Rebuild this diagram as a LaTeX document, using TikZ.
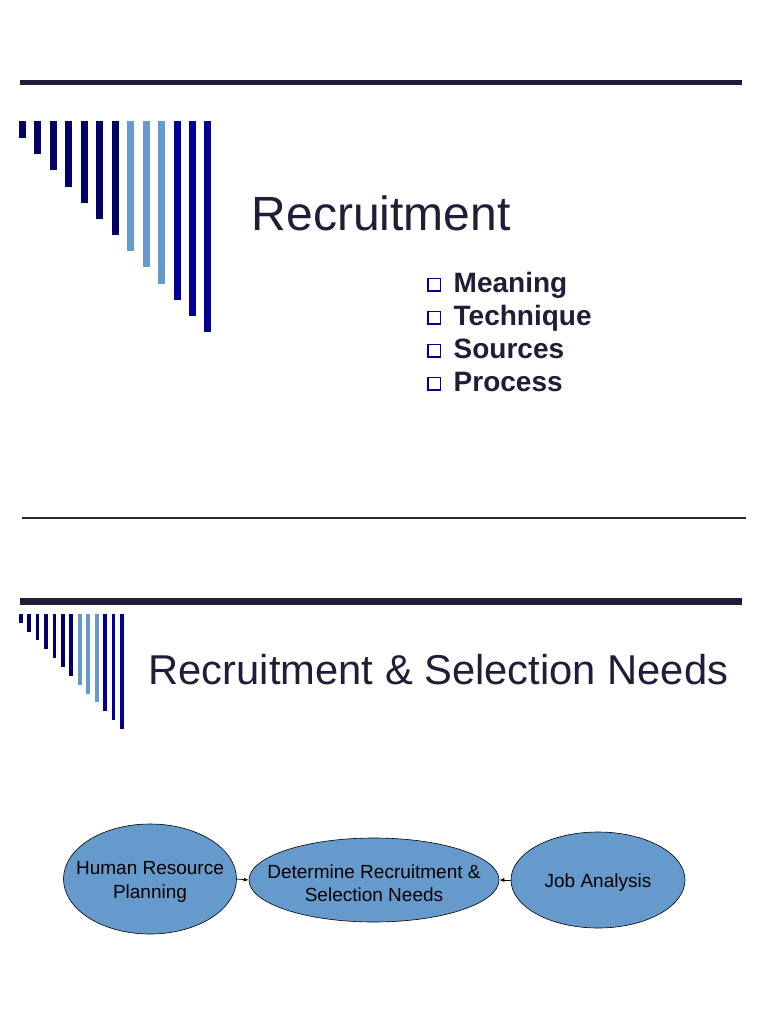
\documentclass[tikz,border=0pt]{standalone}
\usepackage{fontspec}
\setmainfont{Liberation Sans}
\usetikzlibrary{arrows.meta,shapes.geometric}
\definecolor{SLIDE-DARK}{RGB}{30, 30, 56}
\definecolor{SLIDE-NAVY}{RGB}{0, 0, 102}
\definecolor{SLIDE-LIGHT}{RGB}{102, 153, 204}
\definecolor{SLIDE-BLUE}{RGB}{0, 0, 153}

\begin{document}
\begin{tikzpicture}[x=1pt, y=-1pt,
  stage/.style={ellipse, draw=black, line width=0.6pt, fill=SLIDE-LIGHT, inner sep=0pt},
  stagetext/.style={align=center, yshift=-3pt, font=\fontsize{19}{23.5}\selectfont},
  heading/.style={anchor=base west, inner sep=0pt, text=SLIDE-DARK},
  bullet/.style={anchor=base west, inner sep=0pt, text=SLIDE-DARK, font=\fontsize{28}{32}\selectfont\bfseries}]
  \useasboundingbox (0,0) rectangle (768,1024);
  \fill[white] (0,0) rectangle (768,1024);

  % Slide 1: top rule
  \draw[SLIDE-DARK, line width=5pt] (20,83) -- (742,83);

  % Slide 1: bars (navy, light, blue)
  \foreach \i in {0,...,6}
    \fill[SLIDE-NAVY] ({18.8+15.47*\i},121) rectangle ++(7,{17+16.17*\i});
  \foreach \i in {7,8,9}
    \fill[SLIDE-LIGHT] ({18.8+15.47*\i},121) rectangle ++(7,{17+16.17*\i});
  \foreach \i in {10,11,12}
    \fill[SLIDE-BLUE] ({18.8+15.47*\i},121) rectangle ++(7,{17+16.17*\i});

  % Slide 1: title and list
  \node[heading, font=\fontsize{48}{56}\selectfont] (title1) at (251.5,230) {Recruitment};
  \foreach \txt [count=\k] in {Meaning, Technique, Sources, Process} {
    \draw[SLIDE-BLUE, line width=1.2pt] (428,{278.5+33*(\k-1)}) rectangle ++(12.5,12.5);
    \node[bullet] (item\k) at (453.5,{292+33*(\k-1)}) {\txt};
  }

  % Divider
  \draw[black!85, line width=1.5pt] (22,518) -- (746,518);

  % Slide 2: top rule
  \draw[SLIDE-DARK, line width=6.5pt] (20,601.5) -- (742,601.5);

  % Slide 2: bars
  \foreach \i in {0,...,6}
    \fill[SLIDE-NAVY] ({18.85+8.44*\i},614) rectangle ++(3.7,{8.7+8.86*\i});
  \foreach \i in {7,8,9}
    \fill[SLIDE-LIGHT] ({18.85+8.44*\i},614) rectangle ++(3.7,{8.7+8.86*\i});
  \foreach \i in {10,11,12}
    \fill[SLIDE-BLUE] ({18.85+8.44*\i},614) rectangle ++(3.7,{8.7+8.86*\i});

  % Slide 2: title
  \node[heading, font=\fontsize{41.7}{48}\selectfont] (title2) at (148.5,684) {Recruitment \& Selection Needs};

  % Stages
  \node[stage, minimum width=173, minimum height=110] (hrp) at (150,879) {};
  \node[stagetext] at (hrp) {Human Resource\\Planning};
  \node[stage, minimum width=250, minimum height=84] (needs) at (374,880) {};
  \node[stagetext] at (needs) {Determine Recruitment \&\\Selection Needs};
  \node[stage, minimum width=174, minimum height=96] (job) at (598,880) {};
  \node[stagetext] at (job) {Job Analysis};

  % Links into the needs stage
  \draw[-{Latex[length=5pt,width=4pt]}, line width=0.7pt] (hrp.east) -- (needs.west);
  \draw[-{Latex[length=5pt,width=4pt]}, line width=0.7pt] (job.west) -- (needs.east);
\end{tikzpicture}
\end{document}
